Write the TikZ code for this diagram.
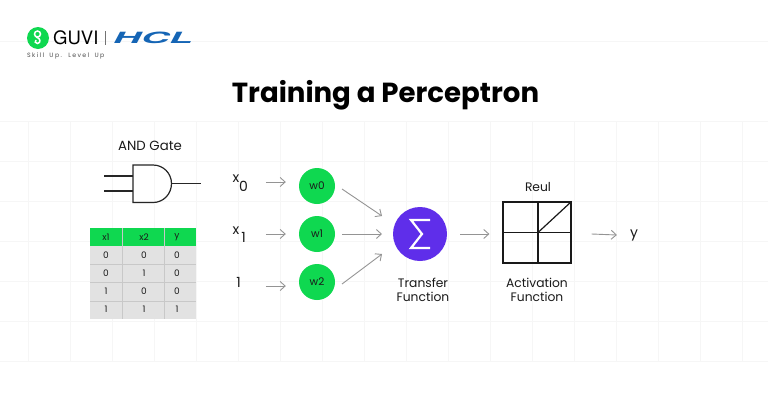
\documentclass[tikz,border=0pt]{standalone}
\usepackage{fontspec}
\setmainfont{Poppins}
\newfontfamily\heros{TeX Gyre Heros}
\newfontfamily\tagfont[LetterSpace=22,WordSpace=1.8]{Poppins}
\usetikzlibrary{arrows.meta,calc}
\definecolor{gridc}{HTML}{F6F6F6}
\definecolor{gr}{HTML}{0FD850}
\definecolor{pur}{HTML}{5F2EEA}
\definecolor{txt}{HTML}{1A1A1A}
\definecolor{cell}{HTML}{E2E2E2}
\definecolor{cellline}{HTML}{C8C8C8}
\definecolor{hclblue}{HTML}{1565B5}
\newcommand{\fs}[1]{\fontsize{#1}{#1}\selectfont}
\tikzset{
  flow/.style={draw=black!42,line width=0.9pt,-{Straight Barb[length=5pt,width=9pt,line width=0.9pt]}},
  wire/.style={draw=black!85,line width=1.2pt},
  lab/.style={text=txt,inner sep=0pt,font=\fs{12.3},align=center},
  weight/.style={circle,fill=gr,minimum size=36pt,inner sep=0pt,text=txt,font=\fs{10.5}},
  cellt/.style={inner sep=0pt,text=txt,font=\fs{9}},
}
\begin{document}
\begin{tikzpicture}[x=1pt,y=-1pt]
\useasboundingbox (0,0) rectangle (768,402);
\fill[white] (0,0) rectangle (768,402);
% background grid
\foreach \x in {28,70,112,154,196,238,280,322,364,406,448,490,532,574,616,658,700,742}
  \draw[gridc,line width=0.6pt] (\x,121) -- (\x,361);
\foreach \y in {41,81,121,161,201,241,281,321,361}
  \draw[gridc,line width=0.6pt] (0,\y) -- (768,\y);
\fill[white] (0,44) rectangle (768,118);
% logo
\node[circle,fill=gr,minimum size=22pt,inner sep=0pt] (logo) at (38,38) {};
\draw[white,line width=1.5pt] (37.5,34) circle (3);
\draw[white,line width=1.5pt] (36,37) .. controls (41,38) and (41,43) .. (37.5,43.5) .. controls (35,43.5) and (34.5,41) .. (36,40);
\node[inner sep=0pt,anchor=west,text=black,font=\fs{18.5}\heros] (guvi) at (53,38) {GUVI};
\draw[black!55,line width=0.6pt] (105.5,31) -- (105.5,45);
\node[inner sep=0pt,anchor=west,text=hclblue,font=\fs{15.5}\heros\bfseries\itshape] (hcl) at (113,38) {\addfontfeature{FakeStretch=2.5}HCL};
\node[inner sep=0pt,anchor=west,text=black!70,font=\tagfont\fs{6.2}] (tag) at (27,56) {Skill Up. Level Up};
% title
\node[inner sep=0pt,text=black,font=\fs{27.6}\bfseries] (title) at (385.5,95) {Training a Perceptron};
% AND gate
\node[lab,font=\fs{13.3}] (andlab) at (150,146) {AND Gate};
\coordinate (g1) at (133,176);
\coordinate (g2) at (133,191);
\coordinate (g3) at (171.5,183.5);
\draw[wire] (133,165) -- (153,165) .. controls (163.5,165) and (171.5,173.5) .. (171.5,183.5) .. controls (171.5,194) and (163.5,202.5) .. (153,202.5) -- (133,202.5) -- cycle;
\coordinate (i1) at (104,176);
\coordinate (i2) at (104,191);
\coordinate (o1) at (201,183.5);
\draw[wire] (i1) -- (g1);
\draw[wire] (i2) -- (g2);
\draw[wire] (g3) -- (o1);
% truth table
\fill[cell] (90,246) rectangle (196,319);
\fill[gr] (90,228) rectangle (196,246);
\foreach \y in {264,282,301} \draw[cellline,line width=0.6pt] (90,\y) -- (196,\y);
\foreach \x in {122.5,164.5} \draw[cellline,line width=0.6pt] (\x,228) -- (\x,319);
\foreach \y/\a/\b/\c [count=\r] in {237.5/x1/x2/y,255.5/0/0/0,273.5/0/1/0,291.5/1/0/0,309.5/1/1/1}{
  \node[cellt] (ta\r) at (106,\y) {\a};
  \node[cellt] (tb\r) at (144,\y) {\b};
  \node[cellt] (tc\r) at (177,\y) {\c};
}
% inputs
\node[lab,font=\fs{14}] (x0) at (236,179) {x};
\node[lab,font=\fs{14}] (x0s) at (243.5,186.5) {0};
\node[lab,font=\fs{14}] (x1) at (236,231) {x};
\node[lab,font=\fs{14}] (x1s) at (243.5,237.5) {1};
\node[lab,font=\fs{14}] (one) at (238.5,282) {1};
% weights
\node[weight] (w0) at (317,186) {w0};
\node[weight] (w1) at (317,234) {w1};
\node[weight] (w2) at (317,282) {w2};
\draw[flow] ([shift={(-33,-4)}]w0.west) -- ([shift={(-13,-4)}]w0.west);
\draw[flow] ([shift={(-33,0)}]w1.west) -- ([shift={(-13,0)}]w1.west);
\draw[flow] ([shift={(-33,4)}]w2.west) -- ([shift={(-13,4)}]w2.west);
% summation
\node[circle,fill=pur,minimum size=54pt,inner sep=0pt,text=white] (sigma) at (420,234) {};
\draw[white,line width=2.2pt,line join=miter]
  ([shift={(10,-14)}]sigma.center) -- ([shift={(-9,-14)}]sigma.center) -- ([shift={(2,0)}]sigma.center) -- ([shift={(-9,14)}]sigma.center) -- ([shift={(10,14)}]sigma.center);
\node[lab] (transfer) at (423,290) {Transfer\\[2pt]Function};
\draw[flow] ([shift={(25,3)}]w0.center) -- ([shift={(-38,-18)}]sigma.center);
\draw[flow] ([shift={(25,0)}]w1.center) -- ([shift={(-38,0)}]sigma.center);
\draw[flow] ([shift={(25,2)}]w2.center) -- ([shift={(-38,20)}]sigma.center);
% activation
\node[draw=black!90,line width=1.2pt,minimum width=68pt,minimum height=61pt,inner sep=0pt] (relu) at (537,232.5) {};
\draw[black!90,line width=1.2pt] (relu.north)++(1,0) coordinate (rn) -- (rn |- relu.south);
\draw[black!90,line width=1.2pt] (relu.west) -- (relu.east);
\draw[black!90,line width=1.2pt] (rn |- relu.center) -- (relu.north east);
\node[lab] (reul) at (538,187) {Reul};
\node[lab] (activation) at (537,290) {Activation\\[2pt]Function};
\draw[flow] ([shift={(40,0)}]sigma.center) -- ([shift={(-13,1.5)}]relu.west);
\node[lab,font=\fs{14}] (y) at (634,235) {y};
\draw[flow] ([shift={(20,1.5)}]relu.east) -- ([shift={(-13,0)}]y.west);
\end{tikzpicture}
\end{document}
